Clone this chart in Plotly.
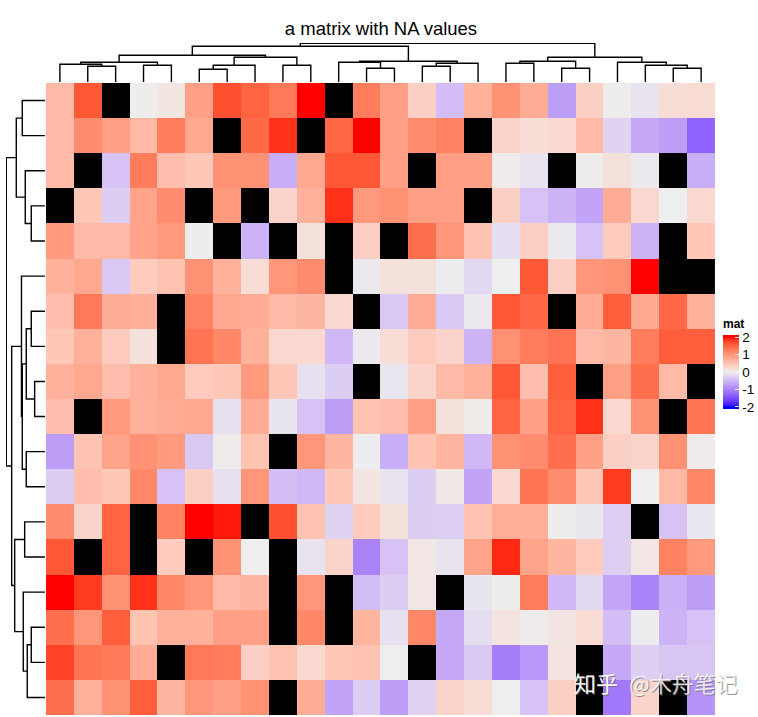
import plotly.graph_objects as go

NA = None

# cell values, rows top to bottom, columns left to right (already in clustered order)
row01 = [0.6, 1.6, NA, 0.02, 0.1, 0.9, 1.65, 1.5, 1.3, 2.1, NA, 1.25, 0.9, 0.35, -0.45, 0.7, 1.05, 0.75, -0.75, 0.35, 0.02, -0.1, 0.2, 0.22]
row02 = [0.6, 1.1, 0.9, 0.6, 1.25, 0.8, NA, 1.45, 1.85, NA, 1.45, 2.1, 0.9, 1.1, 1.2, NA, 0.3, 0.2, 0.25, 0.6, -0.25, -0.65, -0.75, -1.3]
row03 = [0.6, NA, -0.4, 1.25, 0.55, 0.45, 1.05, 1.05, -0.6, 0.8, 1.6, 1.6, 0.9, NA, 0.9, 0.9, 0.03, -0.1, NA, 0.02, 0.15, -0.05, NA, -0.6]
row04 = [NA, 0.45, -0.3, 0.85, 1.1, NA, 0.95, NA, 0.3, 0.7, 1.85, 0.95, 1.05, 0.9, 0.9, NA, 0.35, -0.4, -0.55, -0.7, 0.75, 0.25, 0.0, 0.25]
row05 = [0.95, 0.6, 0.6, 0.85, 0.95, -0.02, NA, -0.55, NA, 0.15, NA, 0.35, NA, 1.4, 1.0, 0.5, -0.15, 0.35, -0.05, -0.4, 0.4, -0.55, NA, 0.45]
row06 = [0.7, 0.8, -0.35, 0.4, 0.5, 1.05, 0.7, 0.2, 1.0, 1.1, NA, -0.05, 0.15, 0.15, -0.03, -0.2, 0.0, 1.6, 0.35, 1.0, 1.05, 2.1, NA, NA]
row07 = [0.55, 1.3, 0.75, 0.72, NA, 1.2, 0.8, 0.75, 0.6, 0.65, 0.25, NA, -0.35, 0.75, -0.35, -0.05, 1.6, 1.45, NA, 0.75, 1.55, 0.8, 1.45, 0.7]
row08 = [0.45, 0.7, 0.4, 0.15, NA, 1.35, 1.15, 0.7, 0.25, 0.25, -0.5, -0.05, 0.2, 0.4, 0.3, -0.55, 1.05, 1.25, 1.35, 0.6, 0.65, 1.25, 1.55, 1.55]
row09 = [0.7, 0.8, 0.55, 0.7, 0.8, 0.4, 0.45, 0.95, 0.45, -0.12, -0.3, NA, -0.07, 0.3, 0.6, 0.7, 1.6, 0.55, 1.55, NA, 0.9, 1.4, 0.6, NA]
row10 = [0.55, NA, 0.95, 0.7, 0.75, 0.8, -0.12, 0.75, -0.08, -0.4, -0.75, 0.5, 0.55, 0.9, 0.15, 0.05, 1.5, 0.9, 1.5, 1.85, 0.25, 1.05, NA, 1.35]
row11 = [-0.75, 0.5, 0.85, 1.05, 0.95, -0.35, 0.03, 0.5, NA, 1.0, 0.65, -0.02, -0.6, 0.5, 0.65, -0.5, 1.05, 1.1, 1.4, 0.9, 0.35, 0.3, 1.05, 0.03]
row12 = [-0.3, 0.55, 0.45, 1.15, -0.4, 0.35, -0.12, 1.0, -0.45, -0.5, 0.45, 0.1, -0.1, -0.3, 0.07, -0.7, 0.25, 1.35, 1.1, 0.45, 1.8, 0.0, 0.6, 1.15]
row13 = [1.1, 0.3, 1.5, NA, 1.2, 2.1, 1.95, NA, 1.65, 0.5, -0.25, 0.4, 0.15, -0.3, -0.28, 0.5, 0.72, 0.72, 0.02, -0.06, -0.28, NA, -0.4, -0.07]
row14 = [1.6, NA, 1.5, NA, 0.4, NA, 1.05, 0.0, NA, -0.1, 0.3, -1.0, -0.4, 0.08, -0.1, 0.85, 1.9, 0.85, 0.65, 0.4, -0.28, 0.08, 1.2, 0.95]
row15 = [2.1, 1.8, 1.05, 1.85, 1.15, 1.0, 0.6, 0.65, NA, 1.0, NA, -0.45, -0.3, 0.08, NA, -0.08, 0.02, 1.25, -0.5, -0.2, -0.68, -1.0, -0.58, -0.75]
row16 = [1.4, 1.0, 1.55, 0.5, 0.7, 0.7, 0.9, 0.9, NA, 1.15, NA, 0.65, -0.12, 1.15, -0.65, -0.15, 0.12, 0.03, 0.1, 0.22, -0.45, -0.03, -0.55, -0.4]
row17 = [1.75, 1.35, 1.3, 0.75, NA, 1.3, 1.25, 0.35, 0.5, 0.25, 0.45, 0.5, 0.0, NA, -0.65, -0.35, -1.05, -0.8, 0.12, NA, -0.65, -0.27, -0.38, -0.38]
row18 = [1.4, 0.7, 1.05, 1.55, 0.65, 1.0, 0.9, 1.05, NA, 0.75, -0.7, -0.3, -0.75, -0.25, 0.3, 0.2, 0.0, -0.4, 0.35, NA, -1.1, 0.3, NA, -0.85]
mat = [row01, row02, row03, row04, row05, row06, row07, row08, row09,
       row10, row11, row12, row13, row14, row15, row16, row17, row18]

# dendrogram merges: (left leaves, right leaves, height), children listed before parents
col_merges = [
    ((2,), (3,), 15.7), ((1,), (2, 3), 17.7), ((4,), (5,), 16.7), ((1, 2, 3), (4, 5), 19.7),
    ((6,), (7,), 12.7), ((6, 7), (8,), 16.7), ((9,), (10,), 16.7), ((6, 7, 8), (9, 10), 24.7),
    ((1, 2, 3, 4, 5), (6, 7, 8, 9, 10), 26.7),
    ((12,), (13,), 13.7), ((11,), (12, 13), 19.7), ((14,), (15,), 15.7), ((14, 15), (16,), 18.7),
    ((11, 12, 13), (14, 15, 16), 20.7),
    ((1, 2, 3, 4, 5, 6, 7, 8, 9, 10), (11, 12, 13, 14, 15, 16), 35.7),
    ((17,), (18,), 18.7), ((19,), (20,), 13.7), ((17, 18), (19, 20), 20.7),
    ((23,), (24,), 13.7), ((22,), (23, 24), 16.7), ((21,), (22, 23, 24), 19.7),
    ((17, 18, 19, 20), (21, 22, 23, 24), 24.7),
    ((1, 2, 3, 4, 5, 6, 7, 8, 9, 10, 11, 12, 13, 14, 15, 16), (17, 18, 19, 20, 21, 22, 23, 24), 38.7),
]
row_merges = [
    ((1,), (2,), 22.7), ((4,), (5,), 13.7), ((3,), (4, 5), 19.7), ((1, 2), (3, 4, 5), 28.7),
    ((7,), (8,), 13.7), ((9,), (10,), 10.3), ((7, 8), (9, 10), 18.7), ((11,), (12,), 18.7),
    ((7, 8, 9, 10), (11, 12), 22.7), ((6,), (7, 8, 9, 10, 11, 12), 23.5),
    ((13,), (14,), 20.3), ((16,), (17,), 13.7), ((16, 17), (18,), 17.7), ((15,), (16, 17, 18), 21.7),
    ((13, 14), (15, 16, 17, 18), 30.3),
    ((6, 7, 8, 9, 10, 11, 12), (13, 14, 15, 16, 17, 18), 33.3),
    ((1, 2, 3, 4, 5), (6, 7, 8, 9, 10, 11, 12, 13, 14, 15, 16, 17, 18), 38.7),
]

legend_ticks = [-2, -1, 0, 1, 2]
legend_labels = ['-2', '-1', '0', '1', '2']
title = 'a matrix with NA values'
W, H = 758, 717


def lab_to_rgb(L, a, b):
    fy = (L + 16) / 116
    fx, fz = fy + a / 500, fy - b / 200
    def f(t):
        return t ** 3 if t > 6 / 29 else 3 * (6 / 29) ** 2 * (t - 4 / 29)
    X, Y, Z = 0.95047 * f(fx), f(fy), 1.08883 * f(fz)
    rgb = [3.2406 * X - 1.5372 * Y - 0.4986 * Z,
           -0.9689 * X + 1.8758 * Y + 0.0415 * Z,
           0.0557 * X - 0.2040 * Y + 1.0570 * Z]
    out = []
    for c in rgb:
        c = max(0, min(1, c))
        c = 12.92 * c if c <= 0.0031308 else 1.055 * c ** (1 / 2.4) - 0.055
        out.append(round(255 * c))
    return 'rgb(%d,%d,%d)' % tuple(out)


# blue - #EEEEEE - red, mixed in LAB like colorRamp2
blue_lab = (32.3, 79.2, -107.9)
mid_lab = (94.0, 0, 0)
red_lab = (53.2, 80.1, 67.2)
zlim = 2.12
colorscale = []
for i in range(41):
    v = -zlim + 2 * zlim * i / 40
    t = max(-1, min(1, v / 2))
    end = red_lab if t > 0 else blue_lab
    lab = [m + (e - m) * abs(t) for m, e in zip(mid_lab, end)]
    colorscale.append([i / 40, lab_to_rgb(*lab)])


def dendro_segments(merges):
    pos = {}
    top = {}
    a, h = [], []
    for left, right, height in merges:
        for side in (left, right):
            if side not in pos:
                pos[side] = side[0] - 1
                top[side] = 0
        p1, p2 = pos[left], pos[right]
        a += [p1, p1, p2, p2, None]
        h += [top[left], height, height, top[right], None]
        node = left + right
        pos[node] = (p1 + p2) / 2
        top[node] = height
    return a, h


fig = go.Figure()

# NA cells in black, under the colored cells
na_mask = [[1 if v is None else None for v in row] for row in mat]
fig.add_trace(go.Heatmap(z=na_mask, colorscale=[[0, 'black'], [1, 'black']], showscale=False,
                         hoverinfo='skip', xaxis='x', yaxis='y'))
# colorbar len includes its title, so the box starts above the bar itself
fig.add_trace(go.Heatmap(z=mat, colorscale=colorscale, zmin=-zlim, zmax=zlim, xaxis='x', yaxis='y',
                         colorbar=dict(
                             title=dict(text='<b>mat</b>', side='top', font=dict(size=12, family='Liberation Sans', color='black')),
                             tickmode='array', tickvals=legend_ticks, ticktext=legend_labels,
                             ticks='inside', ticklen=4, tickcolor='white', tickwidth=1,
                             tickfont=dict(size=13.5, family='Liberation Sans', color='black'),
                             x=723 / W, xanchor='left', xpad=0, ypad=0,
                             y=1 - 362.5 / H, yanchor='middle', lenmode='pixels', len=93,
                             thicknessmode='pixels', thickness=16, outlinewidth=0)))

cx, ch = dendro_segments(col_merges)
fig.add_trace(go.Scatter(x=cx, y=ch, mode='lines', line=dict(color='black', width=1.4), hoverinfo='skip',
                         showlegend=False, xaxis='x2', yaxis='y2'))
ry, rh = dendro_segments(row_merges)
fig.add_trace(go.Scatter(x=rh, y=ry, mode='lines', line=dict(color='black', width=1.4), hoverinfo='skip',
                         showlegend=False, xaxis='x3', yaxis='y3'))

hidden = dict(showgrid=False, zeroline=False, showticklabels=False, ticks='', showline=False)
x_dom = [46 / W, 716 / W]
y_dom = [1 - 715 / H, 1 - 83 / H]
x_rng = [-0.5, 23.5]
y_rng = [17.5, -0.5]
fig.update_layout(
    width=W, height=H, autosize=False,
    margin=dict(l=0, r=0, t=0, b=0),
    paper_bgcolor='white', plot_bgcolor='white',
    font=dict(family='Liberation Sans', color='black'),
    title=dict(text=title, x=381 / W, xanchor='center', y=1 - 29 / H, yanchor='middle',
               font=dict(size=18.5, family='Liberation Sans', color='black')),
    xaxis=dict(domain=x_dom, range=x_rng, anchor='y', **hidden),
    yaxis=dict(domain=y_dom, range=y_rng, anchor='x', **hidden),
    xaxis2=dict(domain=x_dom, range=x_rng, anchor='y2', **hidden),
    yaxis2=dict(domain=[1 - 82 / H, 1 - 43 / H], range=[0, 39], anchor='x2', **hidden),
    xaxis3=dict(domain=[6 / W, 45 / W], range=[39, 0], anchor='y3', **hidden),
    yaxis3=dict(domain=y_dom, range=y_rng, anchor='x3', **hidden),
)

# watermark: grey shadow first, light text on top
for dx, col1, col2 in [(1, 'rgba(110,110,110,0.75)', 'rgba(110,110,110,0.7)'),
                       (0, 'rgba(255,255,255,0.97)', 'rgba(255,255,255,0.8)')]:
    fig.add_annotation(text='知乎', xref='paper', yref='paper', x=(573 + dx) / W, y=1 - (682 + dx) / H,
                       xanchor='left', yanchor='middle', showarrow=False,
                       font=dict(family='Noto Sans CJK SC', size=22, color=col1))
    fig.add_annotation(text='@木舟笔记', xref='paper', yref='paper', x=(628 + dx) / W, y=1 - (682 + dx) / H,
                       xanchor='left', yanchor='middle', showarrow=False,
                       font=dict(family='Noto Sans CJK SC', size=22, color=col2))

# page margin off so the figure sits at the window's corner
fig.write_html('out.html', config={'displayModeBar': False},
               post_script="document.body.style.margin='0';")
